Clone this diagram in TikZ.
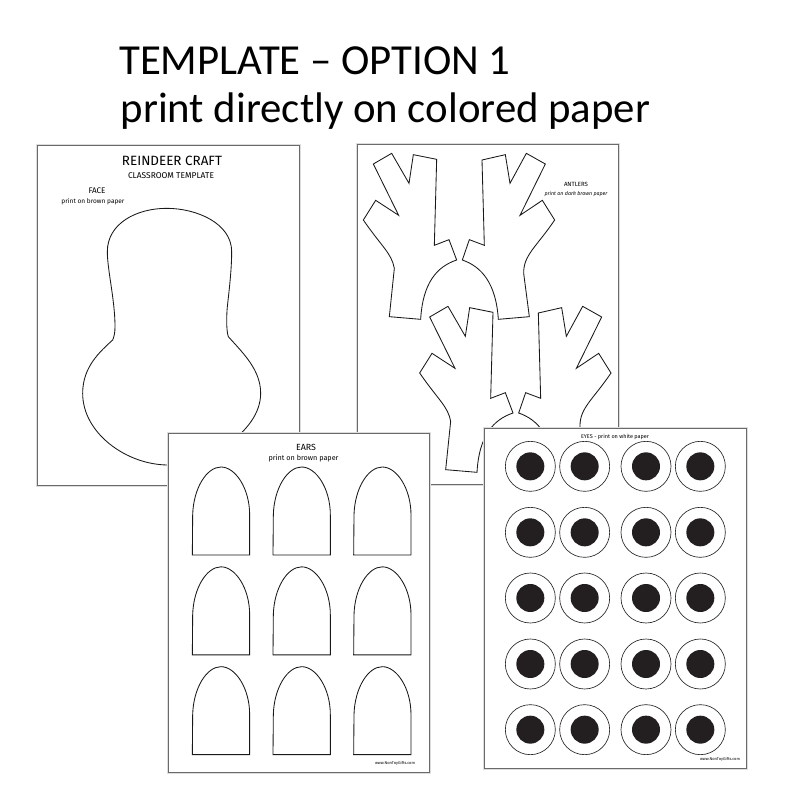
\documentclass[tikz,border=0pt]{standalone}
\usepackage{fontspec}
\usepackage{graphicx}
\setmainfont{Carlito}
\newfontfamily\smallf{Fira Sans}
\definecolor{inkk}{HTML}{231F20}
\definecolor{framec}{HTML}{6A6A6A}
\definecolor{shadowc}{HTML}{DDDDDD}
\tikzset{
  sheet/.style={draw=framec,fill=white,line width=1pt},
  sheetshadow/.style={draw=shadowc,line width=3pt},
  cut/.style={draw=black!90,line width=0.85pt,line join=miter,fill=white},
  lbl/.style={inner sep=0pt,text=black},
  headline/.style={inner sep=0pt,anchor=base west,text=black,font=\fontsize{42.8}{42.8}\selectfont},
  zoomA/.style={x=0.33333pt,y=-0.33333pt}
}
\newcommand{\fitw}[2]{\resizebox{#1pt}{!}{\smallf #2}}
\newcommand{\antlerpair}{%
  \path[cut] (70,72)--(125,40)--(177,130)--(190,44)--(260,58)--(253,316)--(297,299)--(320,360)
    .. controls (260,380) and (218,430) .. (212,538)--(118,530)--(133,385)
    .. controls (125,340) and (95,320) .. (40,240)--(77,181)--(146,226)--cycle;
  \path[cut] (586,72)--(529,40)--(480,130)--(466,44)--(396,60)--(403,316)--(358,299)--(337,360)
    .. controls (395,380) and (438,430) .. (445,538)--(538,530)--(521,400)
    .. controls (520,345) and (560,320) .. (614,240)--(577,181)--(510,226)--cycle;
}
\begin{document}
\begin{tikzpicture}[x=1pt,y=-1pt]
\useasboundingbox (0,0) rectangle (794,794);
\fill[white] (0,0) rectangle (794,794);
\node[headline] (t1) at (119,75) {TEMPLATE – OPTION 1};
\node[headline] (t2) at (120.5,122.5) {print directly on colored paper};

% face sheet
\draw[sheetshadow] (37,146) rectangle (299,485);
\path[sheet] (37,146) rectangle (299,485);
\node[lbl] (rc) at (172,161) {\fitw{100}{REINDEER CRAFT}};
\node[lbl] (ct) at (171,176) {\fitw{86}{CLASSROOM TEMPLATE}};
\node[lbl] (fc) at (97,191) {\fitw{17}{FACE}};
\node[lbl] (fp) at (93,202) {\fitw{63}{print on brown paper}};
\begin{scope}[shift={(30,140)},zoomA]
\draw[black!90,line width=0.85pt] (410,205) .. controls (320,205) and (232,250) .. (232,335)
  .. controls (232,390) and (255,480) .. (255,560)
  .. controls (255,580) and (252,590) .. (248,600)
  .. controls (210,635) and (158,680) .. (158,760)
  .. controls (158,880) and (290,975) .. (415,975)
  .. controls (520,975) and (692,880) .. (692,760)
  .. controls (692,690) and (640,640) .. (595,590)
  .. controls (588,570) and (590,520) .. (592,500)
  .. controls (600,430) and (605,380) .. (605,335)
  .. controls (605,250) and (500,205) .. (410,205) -- cycle;
\end{scope}

% antler sheet
\draw[sheetshadow] (357,145) rectangle (618,484);
\path[sheet] (357,145) rectangle (618,484);
\begin{scope}[shift={(350,140)},zoomA]
\antlerpair
\begin{scope}[shift={(169,459)}]
\antlerpair
\end{scope}
\end{scope}
\node[lbl] (an) at (576,184) {\fitw{24}{ANTLERS}};
\node[lbl] (ap) at (576,194) {\fitw{63}{\itshape print on dark brown paper}};

% ears sheet
\draw[sheetshadow] (168,433) rectangle (429,772);
\path[sheet] (168,433) rectangle (429,772);
\node[lbl] (en) at (306,447) {\fitw{20}{EARS}};
\node[lbl] (ep) at (303.5,458) {\fitw{70}{print on brown paper}};
\begin{scope}[shift={(160,425)},zoomA]
\foreach \i in {0,1,2}{\foreach \j in {0,1,2}{
  \begin{scope}[shift={(242*\i,299.5*\j)}]
  \path[cut] (97,390)--(98,270) .. controls (100,190) and (140,126) .. (183,126)
     .. controls (226,126) and (269,190) .. (269,270)--(269,390)--cycle;
  \end{scope}
}}
\end{scope}
\node[lbl] (eu) at (395,763) {\fitw{40}{www.NonToyGifts.com}};

% eyes sheet
\draw[sheetshadow] (484.5,428.5) rectangle (746.5,768.5);
\path[sheet] (484.5,428.5) rectangle (746.5,768.5);
\node[lbl] (yn) at (615,437) {\fitw{68}{EYES - print on white paper}};
\begin{scope}[shift={(480,425)},zoomA]
\foreach \cx in {151,314,498,661}{\foreach \cy in {124,322,519,717,914}{
  \draw[black!85,line width=0.65pt] (\cx,\cy) circle[radius=75];
  \fill[inkk] (\cx,\cy) circle[radius=42];
}}
\end{scope}
\node[lbl] (yu) at (720,759) {\fitw{40}{www.NonToyGifts.com}};
\end{tikzpicture}
\end{document}
